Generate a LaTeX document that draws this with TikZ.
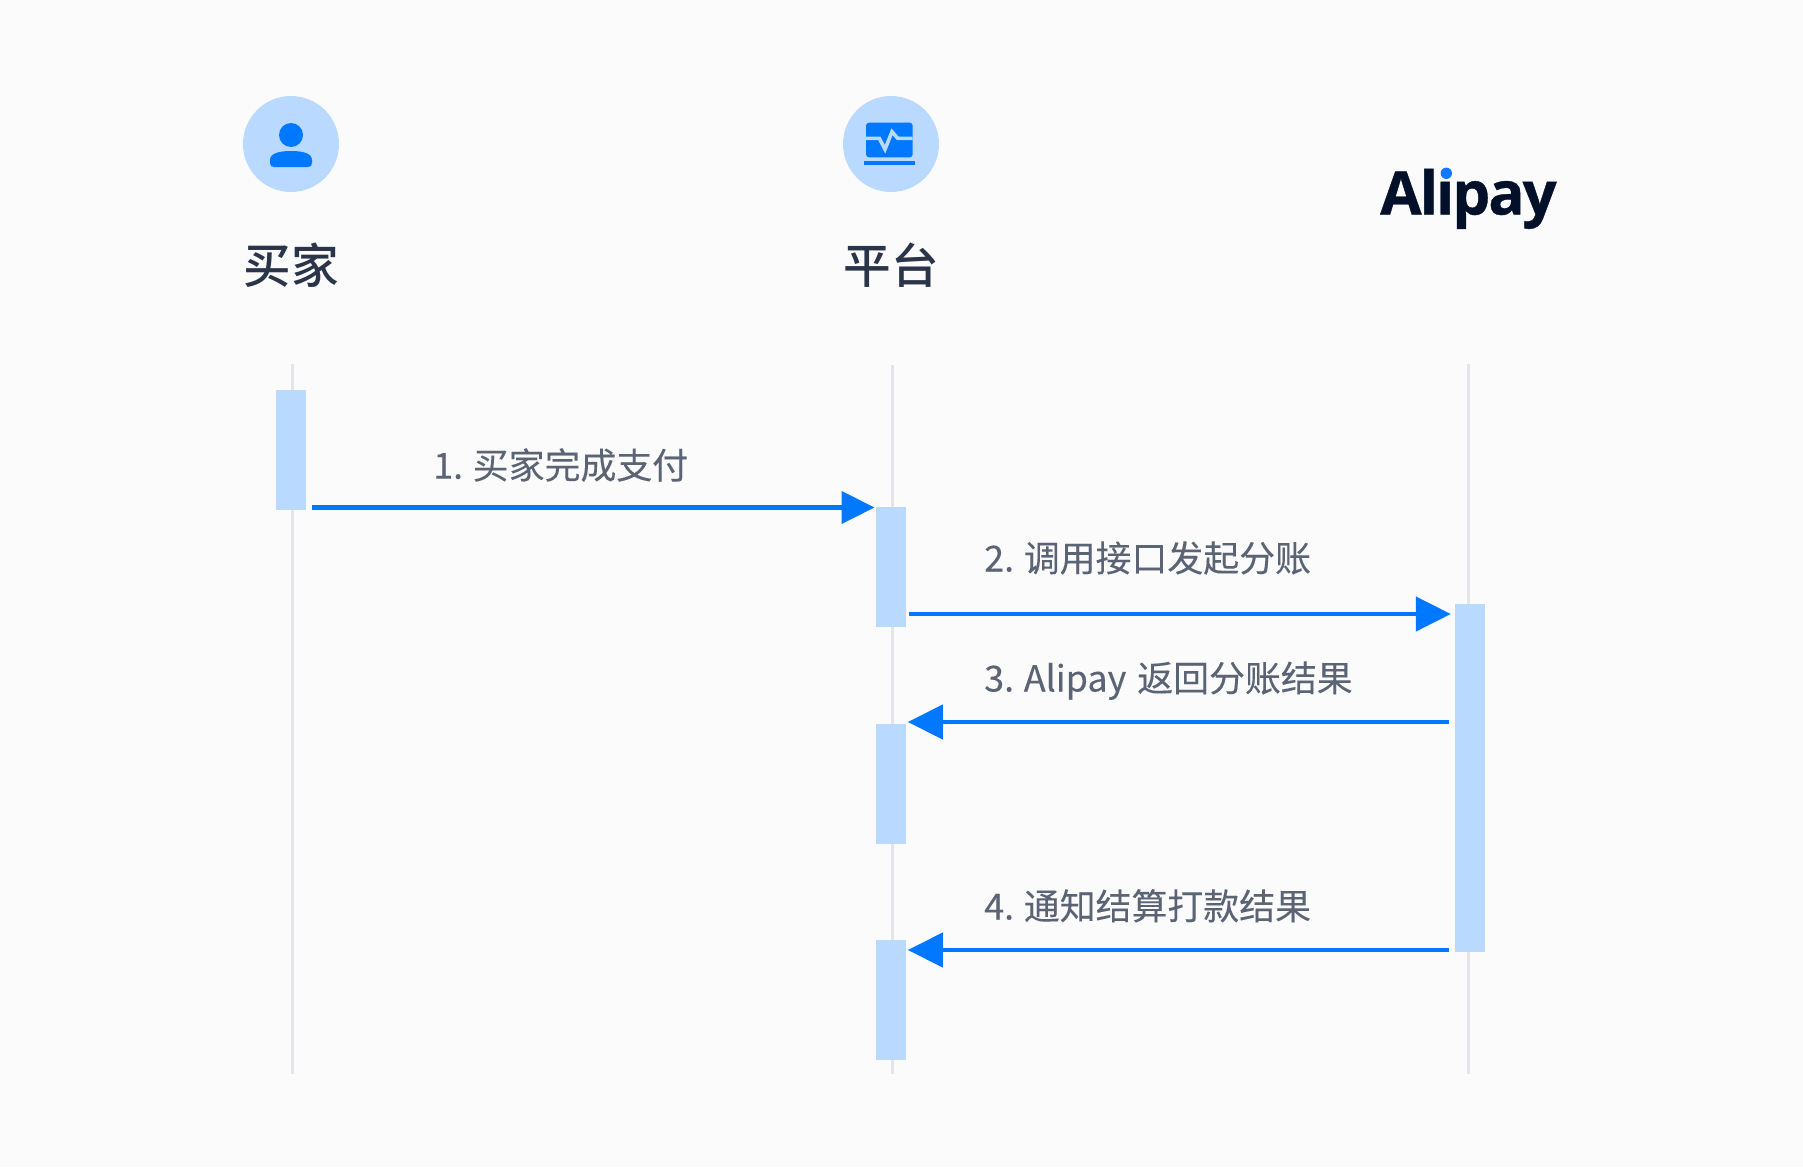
\documentclass[tikz,border=0pt]{standalone}
\usepackage{fontspec}
\usetikzlibrary{arrows.meta}
\newfontfamily\cjkfont[FakeBold=0.12]{Noto Sans CJK SC}
\newfontfamily\cjkmed{Noto Sans CJK SC Medium}
\newfontfamily\logofont[LetterSpace=-3.3,FakeBold=0.6]{Open Sans}
\definecolor{pagebg}{HTML}{FBFBFC}
\definecolor{barblue}{HTML}{B9D9FF}
\definecolor{mainblue}{HTML}{0078FF}
\definecolor{lifegray}{HTML}{E4E5E9}
\definecolor{msgtext}{HTML}{5B6474}
\definecolor{actortext}{HTML}{2A3549}
\definecolor{logoink}{HTML}{03102A}
\definecolor{logodot}{HTML}{1677FF}
\tikzset{
  lifeline/.style={draw=lifegray,line width=3pt},
  actbar/.style={rectangle,fill=barblue,draw=none,inner sep=0pt,minimum width=30pt},
  avatar/.style={circle,fill=barblue,draw=none,inner sep=0pt,minimum size=96pt},
  actorlabel/.style={inner sep=0pt,anchor=center,text=actortext,font=\cjkmed\fontsize{47.6}{47.6}\selectfont},
  msglabel/.style={inner sep=0pt,anchor=base west,text=msgtext,font=\cjkfont\fontsize{35.9}{36}\selectfont},
  msg/.style={draw=mainblue,line width=4.5pt,-{Triangle[length=35pt,width=34pt,fill=mainblue]}},
}
\begin{document}
\begin{tikzpicture}[x=1pt,y=-1pt]
\useasboundingbox (0,0) rectangle (1803,1167);
\fill[pagebg] (0,0) rectangle (1803,1167);
% lifelines
\coordinate (lt1) at (292.5,364); \coordinate (lb1) at (292.5,1073.5);
\coordinate (lt2) at (892.5,365); \coordinate (lb2) at (892.5,1073.5);
\coordinate (lt3) at (1468.7,364); \coordinate (lb3) at (1468.7,1073.5);
\draw[lifeline] (lt1) -- (lb1);
\draw[lifeline] (lt2) -- (lb2);
\draw[lifeline] (lt3) -- (lb3);
% activation bars
\node[actbar,minimum height=120pt] (bar1) at (291,450.3) {};
\node[actbar,minimum height=120pt] (bar2) at (891,567.3) {};
\node[actbar,minimum height=120pt] (bar3) at (891,783.5) {};
\node[actbar,minimum height=120pt] (bar4) at (891,999.5) {};
\node[actbar,minimum height=348pt] (bar5) at (1470,777.5) {};
% actors
\node[avatar] (buyer) at (291,144) {};
\node[avatar] (platform) at (891,144) {};
\fill[mainblue] (291,135) circle[radius=12pt];
\fill[mainblue] (270,163) -- (270,160) .. controls (270,153) and (280,151) .. (291,151)
  .. controls (302,151) and (312,153) .. (312,160) -- (312,163)
  .. controls (312,165.5) and (310.5,167) .. (308,167) -- (274,167)
  .. controls (271.5,167) and (270,165.5) .. (270,163) -- cycle;
\fill[mainblue,rounded corners=3pt] (866,122.7) rectangle (912.7,157.3);
\fill[mainblue] (864,161.3) rectangle (915,165);
\draw[barblue,line width=3.6pt,line join=miter] (866,138.3) -- (879.3,138.3) -- (885,149.3) -- (892,131.7) -- (897.7,138.3) -- (912.7,138.3);
\node[actorlabel] (buyerlabel) at (291,265) {买家};
\node[actorlabel] (platformlabel) at (891,265) {平台};
% logo
\node[inner sep=0pt,anchor=base west,text=logoink,font=\logofont\bfseries\fontsize{60}{60}\selectfont] (logo) at (1380,214.5) {Al\char"0131 pay};
\fill[logodot] (1446.3,173.3) circle[radius=5.7pt];
% messages
\coordinate (m1) at (0,507.5);
\coordinate (m2) at (0,614);
\coordinate (m3) at (0,722);
\coordinate (m4) at (0,950);
\draw[msg,-{Triangle[length=33pt,width=32pt,fill=mainblue]},shorten <=6pt,shorten >=1.3pt] (bar1.east |- m1) -- (bar2.west |- m1);
\draw[msg,shorten <=3pt,shorten >=4pt] (bar2.east |- m2) -- (bar5.west |- m2);
\draw[msg,shorten <=6pt,shorten >=1.6pt] (bar5.west |- m3) -- (bar3.east |- m3);
\draw[msg,shorten <=6pt,shorten >=1.6pt] (bar5.west |- m4) -- (bar4.east |- m4);
\node[msglabel] (t1) at (433,478.7) {1.\hspace{9.7pt}买家完成支付};
\node[msglabel] (t2) at (984,571.5) {2.\hspace{9.7pt}调用接口发起分账};
\node[msglabel] (t3) at (984,691.5) {3.\hspace{9.7pt}Alipay\hspace{11pt}返回分账结果};
\node[msglabel] (t4) at (984,919.5) {4.\hspace{9.7pt}通知结算打款结果};
\end{tikzpicture}
\end{document}
